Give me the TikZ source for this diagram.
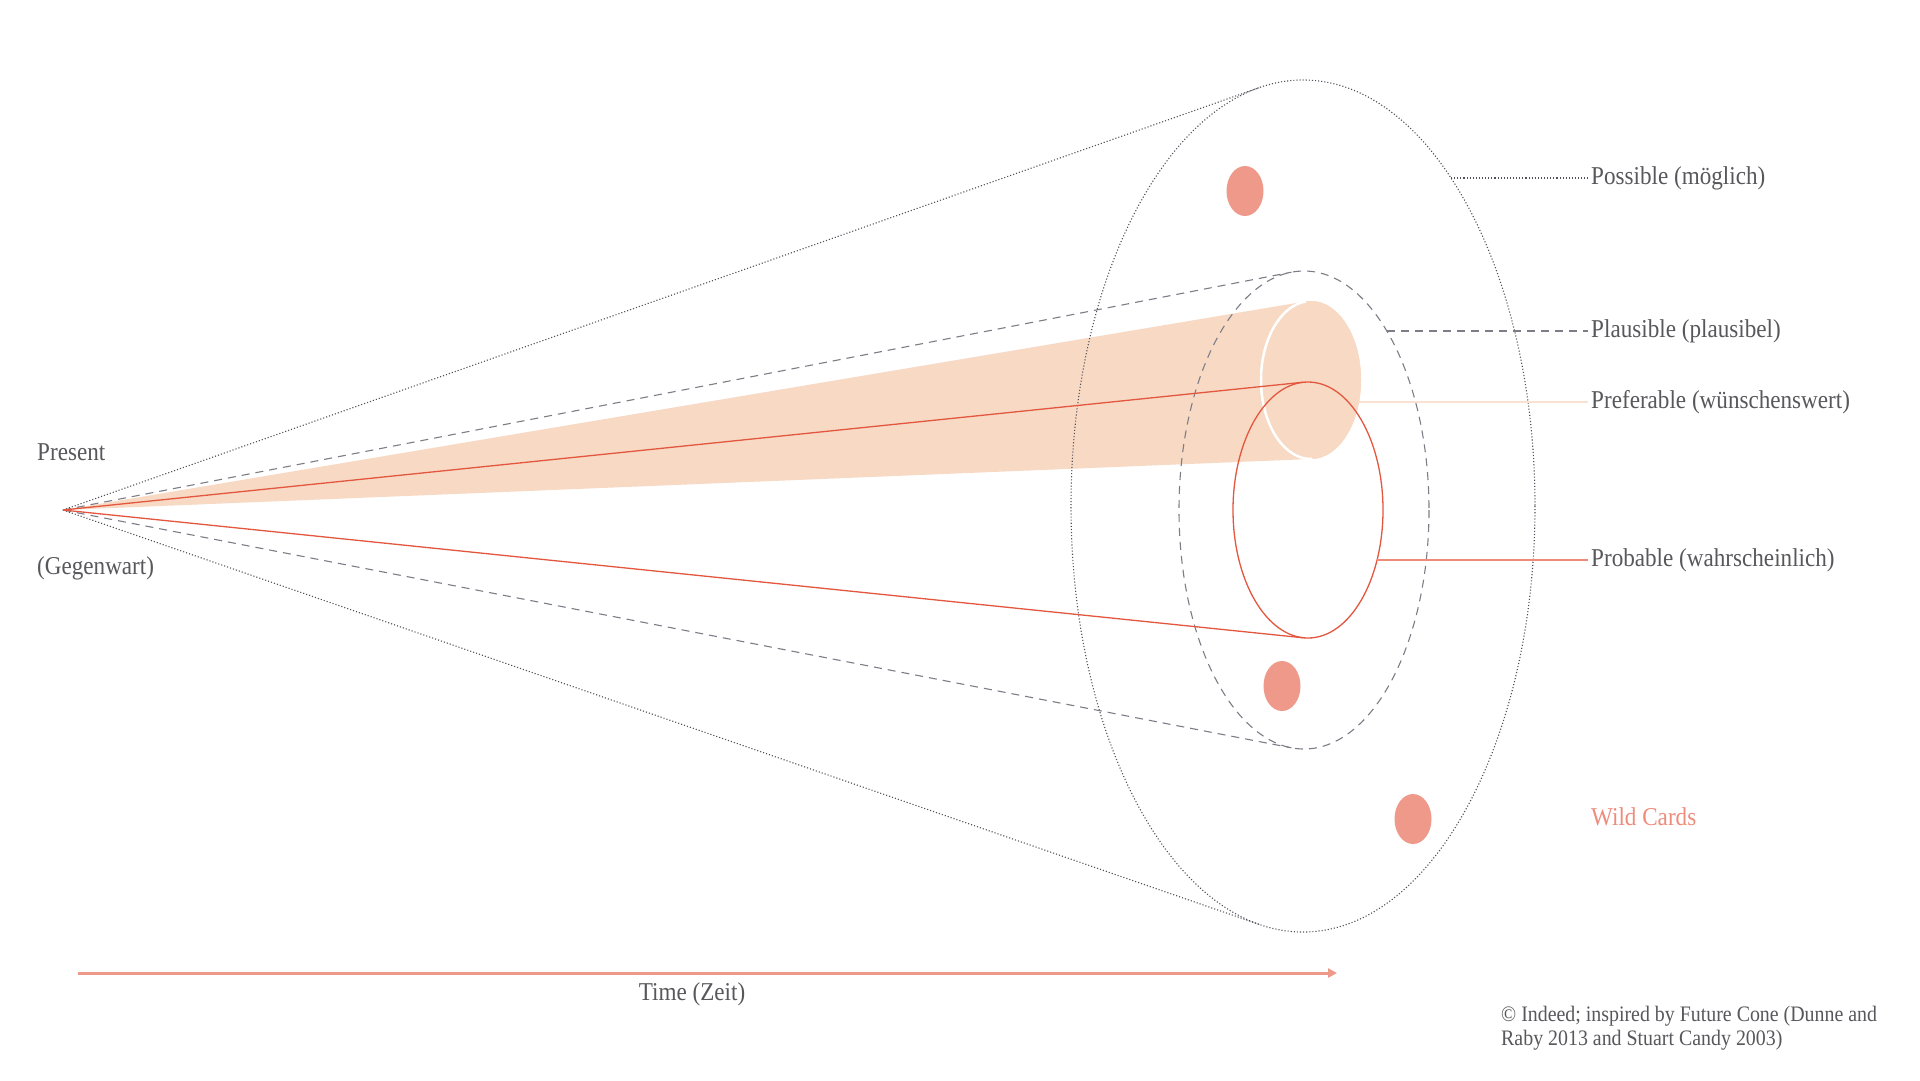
\documentclass[tikz,border=0pt]{standalone}
\usepackage{fontspec}
\setmainfont{Liberation Serif}[FakeStretch=0.9]
\usetikzlibrary{arrows.meta,shapes.geometric}
\definecolor{textgray}{RGB}{88,88,92}
\definecolor{dotgray}{RGB}{80,80,90}
\definecolor{dashgray}{RGB}{125,125,135}
\definecolor{conered}{RGB}{228,87,63}
\definecolor{probred}{RGB}{238,138,122}
\definecolor{peach}{RGB}{247,217,196}
\definecolor{peachline}{RGB}{249,226,210}
\definecolor{cardsalmon}{RGB}{238,153,138}
\definecolor{wildtext}{RGB}{238,140,124}
\newcommand{\labelfont}{\fontsize{25.7}{30}\selectfont}
\newcommand{\notefont}{\fontsize{22.1}{24}\selectfont}

\begin{document}
\begin{tikzpicture}[x=1pt,y=-1pt,
		label text/.style={font=\labelfont,text=textgray,inner xsep=3pt,inner ysep=0pt},
		possible line/.style={draw=dotgray,line width=1.1pt,dotted},
		plausible line/.style={draw=dashgray,line width=1.1pt,dash pattern=on 8pt off 6pt},
		probable line/.style={draw=conered,line width=1.3pt},
		wild card/.style={ellipse,fill=cardsalmon,minimum width=37pt,minimum height=50pt,inner sep=0pt},
		time arrow/.style={draw=cardsalmon,line width=3pt,-{Triangle[length=9pt,width=9pt]}}]
		
		\fill[white] (0,0) rectangle (1920,1080);
		\useasboundingbox (0,0) rectangle (1920,1080);
		
		% apex and ellipse centres
		\coordinate (present) at (63,510);
		\coordinate (poss) at (1303,506);
		\coordinate (plau) at (1304,510);
		\coordinate (prob) at (1308,510);
		\coordinate (pref) at (1311,380);
		
		% tangent points
		\coordinate (possT) at (1259.1,87.7);
		\coordinate (possB) at (1259.9,924.6);
		\coordinate (plauT) at (1291.4,272.2);
		\coordinate (plauB) at (1291.4,747.8);
		\coordinate (probT) at (1303.4,382.2);
		\coordinate (probB) at (1303.4,637.8);
		\coordinate (prefT) at (1305.7,301.4);
		\coordinate (prefB) at (1312.3,459.0);
		
		% preferable cone
		\fill[peach] (present) -- (prefT) arc[start angle=263.9,end angle=448.5,x radius=50,y radius=79] -- cycle;
		\fill[peach] (pref) ellipse [x radius=50,y radius=79];
		\draw[white,line width=2.5pt] (prefB) arc[start angle=88.5,end angle=263.9,x radius=50,y radius=79];
		
		% possible, plausible, probable
		\path[possible line] (present) edge (possT) edge (possB);
		\draw[possible line] (poss) ellipse [x radius=232,y radius=426];
		\path[plausible line] (present) edge (plauT) edge (plauB);
		\draw[plausible line] (plau) ellipse [x radius=125,y radius=239];
		\path[probable line] (present) edge (probT) edge (probB);
		\draw[probable line] (prob) ellipse [x radius=75,y radius=128];
		
		\node[wild card] (card1) at (1245,191) {};
		\node[wild card] (card2) at (1282,686) {};
		\node[wild card] (card3) at (1413,819) {};
		
		% labels
		\node[label text,anchor=west] (possible) at (1588,178) {Possible (möglich)};
		\node[label text,anchor=west] (plausible) at (1588,331) {Plausible (plausibel)};
		\node[label text,anchor=west] (preferable) at (1588,402) {Preferable (wünschenswert)};
		\node[label text,anchor=west] (probable) at (1588,560) {Probable (wahrscheinlich)};
		\node[label text,text=wildtext,anchor=base west] (wild) at (1588,825) {Wild Cards};
		
		\coordinate (possLead) at (1451,178);
		\coordinate (plauLead) at (1387,331);
		\coordinate (prefLead) at (1359,402);
		\coordinate (probLead) at (1377,560);
		\draw[possible line] (possLead) -- (possible.west);
		\draw[plausible line] (plauLead) -- (plausible.west);
		\draw[peachline,line width=2pt] (prefLead) -- (preferable.west);
		\draw[probred,line width=2pt] (probLead) -- (probable.west);
		
		\node[label text,anchor=base west] (now) at (34,460) {Present};
		\node[label text,anchor=base west] (nowde) at (34,574) {(Gegenwart)};
		
		% time axis
		\coordinate (tStart) at (78,973);
		\coordinate (tEnd) at (1337,973);
		\draw[time arrow] (tStart) -- (tEnd);
		\node[label text,anchor=base] (time) at (692,1000) {Time (Zeit)};
		
		\node[label text,font=\notefont,anchor=base west] (note1) at (1498,1021) {© Indeed; inspired by Future Cone (Dunne and};
		\node[label text,font=\notefont,anchor=base west] (note2) at (1498,1045) {Raby 2013 and Stuart Candy 2003)};
		\end{tikzpicture}
\end{document}
